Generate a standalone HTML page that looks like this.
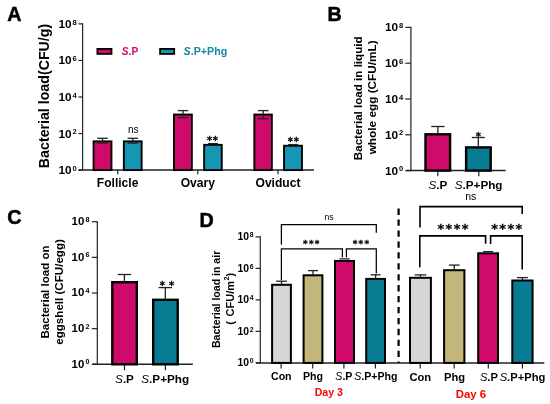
<!DOCTYPE html>
<html><head><meta charset="utf-8"><style>
html,body{margin:0;padding:0;background:#fff;}
body{width:550px;height:404px;overflow:hidden;}
svg{display:block;font-family:'Liberation Sans', Arial, sans-serif;}
</style></head><body>
<svg width="550" height="404" viewBox="0 0 550 404">
<rect width="550" height="404" fill="#fff"/>
<text x="7.2" y="20.6" font-size="19.7" text-anchor="start" font-weight="bold" fill="#000" font-style="normal" stroke="#000" stroke-width="0.5">A</text>
<line x1="82.6" y1="23.259999999999984" x2="82.6" y2="170.1" stroke="#222" stroke-width="1.2"/>
<line x1="78.5" y1="170.1" x2="82.6" y2="170.1" stroke="#222" stroke-width="1.2"/>
<text x="58.46" y="174.16" font-size="11.8" font-weight="bold" fill="#000">10<tspan font-size="7.6" dx="0.8" dy="-3.4">0</tspan></text>
<line x1="78.5" y1="133.54" x2="82.6" y2="133.54" stroke="#222" stroke-width="1.2"/>
<text x="58.46" y="137.60" font-size="11.8" font-weight="bold" fill="#000">10<tspan font-size="7.6" dx="0.8" dy="-3.4">2</tspan></text>
<line x1="78.5" y1="96.97999999999999" x2="82.6" y2="96.97999999999999" stroke="#222" stroke-width="1.2"/>
<text x="58.46" y="101.04" font-size="11.8" font-weight="bold" fill="#000">10<tspan font-size="7.6" dx="0.8" dy="-3.4">4</tspan></text>
<line x1="78.5" y1="60.41999999999999" x2="82.6" y2="60.41999999999999" stroke="#222" stroke-width="1.2"/>
<text x="58.46" y="64.48" font-size="11.8" font-weight="bold" fill="#000">10<tspan font-size="7.6" dx="0.8" dy="-3.4">6</tspan></text>
<line x1="78.5" y1="23.859999999999985" x2="82.6" y2="23.859999999999985" stroke="#222" stroke-width="1.2"/>
<text x="58.46" y="27.92" font-size="11.8" font-weight="bold" fill="#000">10<tspan font-size="7.6" dx="0.8" dy="-3.4">8</tspan></text>
<line x1="78.5" y1="170.1" x2="314" y2="170.1" stroke="#222" stroke-width="1.5"/>
<line x1="117.7" y1="170.1" x2="117.7" y2="174.2" stroke="#222" stroke-width="1.2"/>
<line x1="197.8" y1="170.1" x2="197.8" y2="174.2" stroke="#222" stroke-width="1.2"/>
<line x1="278" y1="170.1" x2="278" y2="174.2" stroke="#222" stroke-width="1.2"/>
<text transform="translate(48.9,96.0) rotate(-90)" font-size="14.2" text-anchor="middle" font-weight="bold" fill="#000">Bacterial load(CFU/g)</text>
<rect x="93.55" y="141.35" width="17.900000000000013" height="28.74999999999999" fill="#d00a6a" stroke="#000" stroke-width="1.9"/>
<line x1="102.5" y1="138.3" x2="102.5" y2="143.1" stroke="#222" stroke-width="1.3"/>
<line x1="97.25" y1="138.3" x2="107.75" y2="138.3" stroke="#222" stroke-width="1.3"/>
<line x1="97.25" y1="143.1" x2="107.75" y2="143.1" stroke="#222" stroke-width="1.3"/>
<rect x="123.85000000000001" y="141.35" width="17.79999999999999" height="28.74999999999999" fill="#1597b4" stroke="#000" stroke-width="1.9"/>
<line x1="132.8" y1="138.3" x2="132.8" y2="143.1" stroke="#222" stroke-width="1.3"/>
<line x1="127.55000000000001" y1="138.3" x2="138.05" y2="138.3" stroke="#222" stroke-width="1.3"/>
<line x1="127.55000000000001" y1="143.1" x2="138.05" y2="143.1" stroke="#222" stroke-width="1.3"/>
<text x="133.3" y="132.9" font-size="10" text-anchor="middle" font-weight="normal" fill="#000" font-style="normal" >ns</text>
<rect x="173.95" y="114.55" width="17.900000000000013" height="55.55" fill="#d00a6a" stroke="#000" stroke-width="1.9"/>
<line x1="183" y1="110.6" x2="183" y2="117.7" stroke="#222" stroke-width="1.3"/>
<line x1="177.75" y1="110.6" x2="188.25" y2="110.6" stroke="#222" stroke-width="1.3"/>
<line x1="177.75" y1="117.7" x2="188.25" y2="117.7" stroke="#222" stroke-width="1.3"/>
<rect x="204.14999999999998" y="144.85" width="17.6" height="25.24999999999999" fill="#1597b4" stroke="#000" stroke-width="1.9"/>
<line x1="213" y1="143.6" x2="213" y2="145.2" stroke="#222" stroke-width="1.3"/>
<line x1="208.0" y1="143.6" x2="218.0" y2="143.6" stroke="#222" stroke-width="1.3"/>
<rect x="254.35" y="114.55" width="17.500000000000007" height="55.55" fill="#d00a6a" stroke="#000" stroke-width="1.9"/>
<line x1="263.2" y1="110.6" x2="263.2" y2="118.7" stroke="#222" stroke-width="1.3"/>
<line x1="257.95" y1="110.6" x2="268.45" y2="110.6" stroke="#222" stroke-width="1.3"/>
<line x1="257.95" y1="118.7" x2="268.45" y2="118.7" stroke="#222" stroke-width="1.3"/>
<rect x="284.05" y="145.75" width="17.899999999999956" height="24.349999999999984" fill="#1597b4" stroke="#000" stroke-width="1.9"/>
<line x1="293.2" y1="144.6" x2="293.2" y2="146.1" stroke="#222" stroke-width="1.3"/>
<line x1="288.2" y1="144.6" x2="298.2" y2="144.6" stroke="#222" stroke-width="1.3"/>
<text x="212.85" y="144.2" font-family="'DejaVu Sans', sans-serif" font-size="9.9" text-anchor="middle" font-weight="bold" fill="#000" stroke="#000" stroke-width="0.3" letter-spacing="0.7">**</text>
<text x="293.65" y="145.0" font-family="'DejaVu Sans', sans-serif" font-size="9.9" text-anchor="middle" font-weight="bold" fill="#000" stroke="#000" stroke-width="0.3" letter-spacing="0.7">**</text>
<text x="117.6" y="187.3" font-size="12.1" text-anchor="middle" font-weight="bold" fill="#000" font-style="normal" >Follicle</text>
<text x="197.8" y="187.3" font-size="12.1" text-anchor="middle" font-weight="bold" fill="#000" font-style="normal" >Ovary</text>
<text x="278" y="187.3" font-size="12.1" text-anchor="middle" font-weight="bold" fill="#000" font-style="normal" >Oviduct</text>
<rect x="97.4" y="48.9" width="14.1" height="5" fill="#d00a6a" stroke="#000" stroke-width="1.8"/>
<rect x="160.1" y="48.9" width="14.1" height="5" fill="#1597b4" stroke="#000" stroke-width="1.8"/>
<text x="121.8" y="54.6" font-size="10.2" font-weight="bold" fill="#d00a6a"><tspan font-style="italic">S</tspan>.P</text>
<text x="183.6" y="54.6" font-size="10.7" font-weight="bold" fill="#1689a3"><tspan font-style="italic">S</tspan>.P+Phg</text>
<text x="327.5" y="20.6" font-size="19.7" text-anchor="start" font-weight="bold" fill="#000" font-style="normal" stroke="#000" stroke-width="0.5">B</text>
<line x1="410.9" y1="26.800000000000004" x2="410.9" y2="170.6" stroke="#222" stroke-width="1.2"/>
<line x1="405.3" y1="170.6" x2="410.9" y2="170.6" stroke="#222" stroke-width="1.2"/>
<text x="385.06" y="174.66" font-size="11.8" font-weight="bold" fill="#000">10<tspan font-size="7.6" dx="0.8" dy="-3.4">0</tspan></text>
<line x1="405.3" y1="134.8" x2="410.9" y2="134.8" stroke="#222" stroke-width="1.2"/>
<text x="385.06" y="138.86" font-size="11.8" font-weight="bold" fill="#000">10<tspan font-size="7.6" dx="0.8" dy="-3.4">2</tspan></text>
<line x1="405.3" y1="99.0" x2="410.9" y2="99.0" stroke="#222" stroke-width="1.2"/>
<text x="385.06" y="103.06" font-size="11.8" font-weight="bold" fill="#000">10<tspan font-size="7.6" dx="0.8" dy="-3.4">4</tspan></text>
<line x1="405.3" y1="63.2" x2="410.9" y2="63.2" stroke="#222" stroke-width="1.2"/>
<text x="385.06" y="67.26" font-size="11.8" font-weight="bold" fill="#000">10<tspan font-size="7.6" dx="0.8" dy="-3.4">6</tspan></text>
<line x1="405.3" y1="27.400000000000006" x2="410.9" y2="27.400000000000006" stroke="#222" stroke-width="1.2"/>
<text x="385.06" y="31.46" font-size="11.8" font-weight="bold" fill="#000">10<tspan font-size="7.6" dx="0.8" dy="-3.4">8</tspan></text>
<line x1="406.5" y1="170.6" x2="505.6" y2="170.6" stroke="#222" stroke-width="1.5"/>
<line x1="437.8" y1="170.6" x2="437.8" y2="176.3" stroke="#222" stroke-width="1.2"/>
<line x1="478.8" y1="170.6" x2="478.8" y2="176.3" stroke="#222" stroke-width="1.2"/>
<text transform="translate(362.4,98.3) rotate(-90)" font-size="11.6" text-anchor="middle" font-weight="bold" fill="#000">Bacterial load in liquid</text>
<text transform="translate(375.7,97.3) rotate(-90)" font-size="11.8" text-anchor="middle" font-weight="bold" fill="#000">whole egg (CFU/mL)</text>
<rect x="425.5" y="134.29999999999998" width="24.6" height="36.3" fill="#d00a6a" stroke="#000" stroke-width="2.4"/>
<line x1="437.9" y1="126.5" x2="437.9" y2="134.1" stroke="#222" stroke-width="1.3"/>
<line x1="431.2" y1="126.5" x2="444.59999999999997" y2="126.5" stroke="#222" stroke-width="1.3"/>
<rect x="466.09999999999997" y="147.39999999999998" width="24.6" height="23.200000000000006" fill="#087c93" stroke="#000" stroke-width="2.4"/>
<line x1="478.3" y1="137.5" x2="478.3" y2="147.2" stroke="#222" stroke-width="1.3"/>
<line x1="471.8" y1="137.5" x2="484.8" y2="137.5" stroke="#222" stroke-width="1.3"/>
<text x="478.30" y="139.7" font-family="'DejaVu Sans', sans-serif" font-size="9.9" text-anchor="middle" font-weight="bold" fill="#000" stroke="#000" stroke-width="0.3" letter-spacing="0">*</text>
<text x="437.8" y="189.3" font-size="11.7" text-anchor="middle" font-weight="bold" fill="#000"><tspan font-style="italic" font-weight="normal">S</tspan>.P</text>
<text x="478.6" y="189.3" font-size="11.7" text-anchor="middle" font-weight="bold" fill="#000"><tspan font-style="italic" font-weight="normal">S</tspan>.P+Phg</text>
<text x="470.8" y="200.2" font-size="10.5" text-anchor="middle" font-weight="normal" fill="#000" font-style="normal" >ns</text>
<text x="7.2" y="224.3" font-size="19.8" text-anchor="start" font-weight="bold" fill="#000" font-style="normal" stroke="#000" stroke-width="0.5">C</text>
<line x1="97.3" y1="221.14000000000001" x2="97.3" y2="364.3" stroke="#222" stroke-width="1.2"/>
<line x1="91.8" y1="364.3" x2="97.3" y2="364.3" stroke="#222" stroke-width="1.2"/>
<text x="71.58" y="367.72" font-size="11.4" font-weight="bold" fill="#000">10<tspan font-size="7.2" dx="1.3" dy="-3.4">0</tspan></text>
<line x1="91.8" y1="328.66" x2="97.3" y2="328.66" stroke="#222" stroke-width="1.2"/>
<text x="71.58" y="332.08" font-size="11.4" font-weight="bold" fill="#000">10<tspan font-size="7.2" dx="1.3" dy="-3.4">2</tspan></text>
<line x1="91.8" y1="293.02" x2="97.3" y2="293.02" stroke="#222" stroke-width="1.2"/>
<text x="71.58" y="296.44" font-size="11.4" font-weight="bold" fill="#000">10<tspan font-size="7.2" dx="1.3" dy="-3.4">4</tspan></text>
<line x1="91.8" y1="257.38" x2="97.3" y2="257.38" stroke="#222" stroke-width="1.2"/>
<text x="71.58" y="260.80" font-size="11.4" font-weight="bold" fill="#000">10<tspan font-size="7.2" dx="1.3" dy="-3.4">6</tspan></text>
<line x1="91.8" y1="221.74" x2="97.3" y2="221.74" stroke="#222" stroke-width="1.2"/>
<text x="71.58" y="225.16" font-size="11.4" font-weight="bold" fill="#000">10<tspan font-size="7.2" dx="1.3" dy="-3.4">8</tspan></text>
<line x1="92.5" y1="364.3" x2="192.8" y2="364.3" stroke="#222" stroke-width="1.5"/>
<line x1="124.5" y1="364.3" x2="124.5" y2="370.3" stroke="#222" stroke-width="1.2"/>
<line x1="165.4" y1="364.3" x2="165.4" y2="370.3" stroke="#222" stroke-width="1.2"/>
<text transform="translate(48.6,292.0) rotate(-90)" font-size="11.55" text-anchor="middle" font-weight="bold" fill="#000">Bacterial load on</text>
<text transform="translate(62.7,291.95) rotate(-90)" font-size="11.6" text-anchor="middle" font-weight="bold" fill="#000">eggshell (CFU/egg)</text>
<rect x="112.3" y="282.2" width="24.500000000000007" height="82.10000000000001" fill="#d00a6a" stroke="#000" stroke-width="2.4"/>
<line x1="124.4" y1="274.5" x2="124.4" y2="282.0" stroke="#222" stroke-width="1.3"/>
<line x1="117.7" y1="274.5" x2="131.1" y2="274.5" stroke="#222" stroke-width="1.3"/>
<rect x="153.2" y="299.8" width="24.500000000000007" height="64.49999999999999" fill="#087c93" stroke="#000" stroke-width="2.4"/>
<line x1="165.3" y1="287.6" x2="165.3" y2="299.6" stroke="#222" stroke-width="1.3"/>
<line x1="158.60000000000002" y1="287.6" x2="172.0" y2="287.6" stroke="#222" stroke-width="1.3"/>
<text x="167.05" y="288.8" font-family="'DejaVu Sans', sans-serif" font-size="9.9" text-anchor="middle" font-weight="bold" fill="#000" stroke="#000" stroke-width="0.3" letter-spacing="0.3">* *</text>
<text x="124.5" y="382.7" font-size="11.7" text-anchor="middle" font-weight="bold" fill="#000"><tspan font-style="italic" font-weight="normal">S</tspan>.P</text>
<text x="165.2" y="382.7" font-size="11.7" text-anchor="middle" font-weight="bold" fill="#000"><tspan font-style="italic" font-weight="normal">S</tspan>.P+Phg</text>
<text x="199.5" y="226.8" font-size="19.7" text-anchor="start" font-weight="bold" fill="#000" font-style="normal" stroke="#000" stroke-width="0.5">D</text>
<line x1="260.3" y1="236.29999999999998" x2="260.3" y2="362.9" stroke="#222" stroke-width="1.2"/>
<line x1="255.6" y1="362.9" x2="260.3" y2="362.9" stroke="#222" stroke-width="1.2"/>
<text x="237.44" y="366.48" font-size="10.4" font-weight="bold" fill="#000">10<tspan font-size="6.8" dx="0.8" dy="-3.2">0</tspan></text>
<line x1="255.6" y1="331.4" x2="260.3" y2="331.4" stroke="#222" stroke-width="1.2"/>
<text x="237.44" y="334.98" font-size="10.4" font-weight="bold" fill="#000">10<tspan font-size="6.8" dx="0.8" dy="-3.2">2</tspan></text>
<line x1="255.6" y1="299.9" x2="260.3" y2="299.9" stroke="#222" stroke-width="1.2"/>
<text x="237.44" y="303.48" font-size="10.4" font-weight="bold" fill="#000">10<tspan font-size="6.8" dx="0.8" dy="-3.2">4</tspan></text>
<line x1="255.6" y1="268.4" x2="260.3" y2="268.4" stroke="#222" stroke-width="1.2"/>
<text x="237.44" y="271.98" font-size="10.4" font-weight="bold" fill="#000">10<tspan font-size="6.8" dx="0.8" dy="-3.2">6</tspan></text>
<line x1="255.6" y1="236.89999999999998" x2="260.3" y2="236.89999999999998" stroke="#222" stroke-width="1.2"/>
<text x="237.44" y="240.48" font-size="10.4" font-weight="bold" fill="#000">10<tspan font-size="6.8" dx="0.8" dy="-3.2">8</tspan></text>
<line x1="256" y1="362.9" x2="544.3" y2="362.9" stroke="#222" stroke-width="1.5"/>
<text transform="translate(219.9,299.4) rotate(-90)" font-size="10.55" text-anchor="middle" font-weight="bold" fill="#000">Bacterial load in air</text>
<text transform="translate(234.4,298.85) rotate(-90)" font-size="11" text-anchor="middle" font-weight="bold" fill="#000">(<tspan dx="1.6"> CFU/m</tspan><tspan font-size="7.2" dx="0.4" dy="-5">2</tspan><tspan dy="5">)</tspan></text>
<line x1="398.6" y1="208.6" x2="398.6" y2="362.7" stroke="#000" stroke-width="2.2" stroke-dasharray="6.3 4.63"/>
<rect x="272.1" y="284.8" width="18.799999999999955" height="78.09999999999997" fill="#d5d5d5" stroke="#000" stroke-width="2"/>
<line x1="281.5" y1="281.2" x2="281.5" y2="284.8" stroke="#222" stroke-width="1.3"/>
<line x1="276.15" y1="281.2" x2="286.85" y2="281.2" stroke="#222" stroke-width="1.3"/>
<rect x="303.6" y="275.3" width="18.799999999999955" height="87.59999999999997" fill="#c3b67b" stroke="#000" stroke-width="2"/>
<line x1="313.0" y1="270.6" x2="313.0" y2="275.3" stroke="#222" stroke-width="1.3"/>
<line x1="308.0" y1="270.6" x2="318.0" y2="270.6" stroke="#222" stroke-width="1.3"/>
<rect x="335.0" y="260.9" width="19" height="102.0" fill="#d00a6a" stroke="#000" stroke-width="2"/>
<line x1="339.5" y1="258.8" x2="349.5" y2="258.8" stroke="#222" stroke-width="1.2"/>
<rect x="366.2" y="278.9" width="18.80000000000001" height="84.0" fill="#097b92" stroke="#000" stroke-width="2"/>
<line x1="375.6" y1="274.8" x2="375.6" y2="278.9" stroke="#222" stroke-width="1.3"/>
<line x1="370.6" y1="274.8" x2="380.6" y2="274.8" stroke="#222" stroke-width="1.3"/>
<rect x="410.0" y="277.8" width="20.899999999999977" height="85.09999999999997" fill="#d5d5d5" stroke="#000" stroke-width="2"/>
<line x1="420.45" y1="274.9" x2="420.45" y2="277.8" stroke="#222" stroke-width="1.3"/>
<line x1="414.59999999999997" y1="274.9" x2="426.3" y2="274.9" stroke="#222" stroke-width="1.3"/>
<rect x="444.1" y="270.2" width="20.299999999999955" height="92.69999999999999" fill="#c3b67b" stroke="#000" stroke-width="2"/>
<line x1="454.25" y1="265.1" x2="454.25" y2="270.2" stroke="#222" stroke-width="1.3"/>
<line x1="448.85" y1="265.1" x2="459.65" y2="265.1" stroke="#222" stroke-width="1.3"/>
<rect x="478.2" y="253.3" width="19.80000000000001" height="109.59999999999997" fill="#d00a6a" stroke="#000" stroke-width="2"/>
<line x1="483.1" y1="251.6" x2="493.1" y2="251.6" stroke="#222" stroke-width="1.2"/>
<rect x="512.3" y="280.5" width="20.30000000000001" height="82.39999999999998" fill="#097b92" stroke="#000" stroke-width="2"/>
<line x1="522.45" y1="277.6" x2="522.45" y2="280.5" stroke="#222" stroke-width="1.3"/>
<line x1="517.0" y1="277.6" x2="527.9000000000001" y2="277.6" stroke="#222" stroke-width="1.3"/>
<line x1="281.1" y1="362.9" x2="281.1" y2="368.5" stroke="#222" stroke-width="1.2"/>
<line x1="312.7" y1="362.9" x2="312.7" y2="368.5" stroke="#222" stroke-width="1.2"/>
<line x1="343.9" y1="362.9" x2="343.9" y2="368.5" stroke="#222" stroke-width="1.2"/>
<line x1="375.4" y1="362.9" x2="375.4" y2="368.5" stroke="#222" stroke-width="1.2"/>
<line x1="420.2" y1="362.9" x2="420.2" y2="368.5" stroke="#222" stroke-width="1.2"/>
<line x1="454.2" y1="362.9" x2="454.2" y2="368.5" stroke="#222" stroke-width="1.2"/>
<line x1="488.3" y1="362.9" x2="488.3" y2="368.5" stroke="#222" stroke-width="1.2"/>
<line x1="522.4" y1="362.9" x2="522.4" y2="368.5" stroke="#222" stroke-width="1.2"/>
<text x="281.3" y="380" font-size="10.6" text-anchor="middle" font-weight="bold" fill="#000" font-style="normal" >Con</text>
<text x="312.9" y="380" font-size="10.6" text-anchor="middle" font-weight="bold" fill="#000" font-style="normal" >Phg</text>
<text x="420.3" y="380.6" font-size="11.2" text-anchor="middle" font-weight="bold" fill="#000" font-style="normal" >Con</text>
<text x="454.5" y="380.6" font-size="11.2" text-anchor="middle" font-weight="bold" fill="#000" font-style="normal" >Phg</text>
<text x="343.9" y="380" font-size="10.6" text-anchor="middle" font-weight="bold" fill="#000"><tspan font-style="italic" font-weight="normal">S</tspan>.P</text>
<text x="488.9" y="380.6" font-size="11.2" text-anchor="middle" font-weight="bold" fill="#000"><tspan font-style="italic" font-weight="normal">S</tspan>.P</text>
<text x="375.8" y="380" font-size="10.6" text-anchor="middle" font-weight="bold" fill="#000"><tspan font-style="italic" font-weight="normal">S</tspan>.P+Phg</text>
<text x="522.5" y="380.6" font-size="11.2" text-anchor="middle" font-weight="bold" fill="#000"><tspan font-style="italic" font-weight="normal">S</tspan>.P+Phg</text>
<text x="328.8" y="396.4" font-size="10.6" text-anchor="middle" font-weight="bold" fill="#fa0000" font-style="normal" >Day 3</text>
<text x="470.9" y="397.6" font-size="11.4" text-anchor="middle" font-weight="bold" fill="#fa0000" font-style="normal" >Day 6</text>
<polyline points="281.4,244.7 281.4,224.7 376.3,224.7 376.3,232.7" fill="none" stroke="#000" stroke-width="1.25"/>
<polyline points="281.4,280.3 281.4,248.8 342.4,248.8 342.4,257.2" fill="none" stroke="#000" stroke-width="1.25"/>
<polyline points="346.4,257.2 346.4,248.8 376.3,248.8 376.3,273.6" fill="none" stroke="#000" stroke-width="1.25"/>
<text x="329" y="219.9" font-size="8.6" text-anchor="middle" font-weight="normal" fill="#000" font-style="normal" >ns</text>
<text x="311.80" y="246.5" font-family="'DejaVu Sans', sans-serif" font-size="8.8" text-anchor="middle" font-weight="bold" fill="#000" stroke="#000" stroke-width="0.3" letter-spacing="1.2">***</text>
<text x="361.50" y="246.5" font-family="'DejaVu Sans', sans-serif" font-size="8.8" text-anchor="middle" font-weight="bold" fill="#000" stroke="#000" stroke-width="0.3" letter-spacing="1.2">***</text>
<polyline points="420.0,227.6 420.0,206.6 522.2,206.6 522.2,214.1" fill="none" stroke="#000" stroke-width="1.6"/>
<polyline points="419.8,267.3 419.8,235.9 485.6,235.9 485.6,243.8" fill="none" stroke="#000" stroke-width="1.6"/>
<polyline points="490.6,244 490.6,235.9 522.2,235.9 522.2,269.5" fill="none" stroke="#000" stroke-width="1.6"/>
<text x="453.73" y="233.3" font-family="'DejaVu Sans', sans-serif" font-size="12.8" text-anchor="middle" font-weight="bold" fill="#000" stroke="#000" stroke-width="0.3" letter-spacing="1.45">****</text>
<text x="507.48" y="233.3" font-family="'DejaVu Sans', sans-serif" font-size="12.8" text-anchor="middle" font-weight="bold" fill="#000" stroke="#000" stroke-width="0.3" letter-spacing="1.45">****</text>
</svg>
</body></html>
